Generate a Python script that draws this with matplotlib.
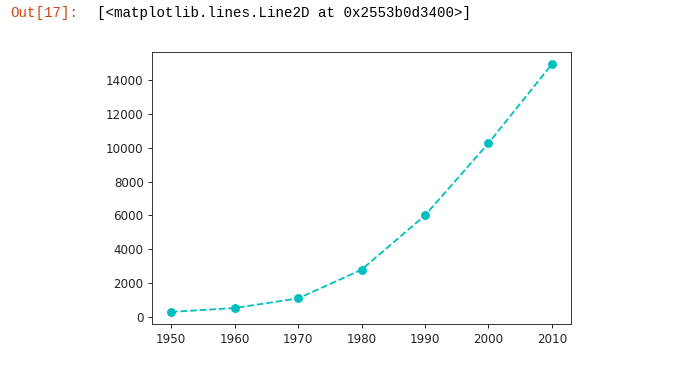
import matplotlib
matplotlib.use("Agg")
import matplotlib.pyplot as plt

years = [1950, 1960, 1970, 1980, 1990, 2000, 2010]
values = [280, 510, 1080, 2780, 6000, 10280, 14970]
yticks = [0, 2000, 4000, 6000, 8000, 10000, 12000, 14000]

fig = plt.figure(figsize=(6.92, 3.67), dpi=100)
ax = fig.add_axes([152/692, 1 - 324.3/367, (571 - 152)/692, (324.3 - 51.7)/367])

ax.plot(years, values, color='c', linestyle='--', marker='o',
        linewidth=1.3, markersize=5.4)
ax.set_xticks(years)
ax.set_yticks(yticks)
ax.tick_params(labelsize=8.6, length=3.0, width=0.7, pad=3.0, colors='#222222')
for s in ax.spines.values():
    s.set_linewidth(0.7)
    s.set_color('#333333')

fig.text(10/692, 1 - 13/367, "Out[17]:", color="#D84315", fontsize=10.2,
         family="Liberation Mono", va="center", ha="left")
fig.text(97/692, 1 - 13/367, "[<matplotlib.lines.Line2D at 0x2553b0d3400>]",
         color="black", fontsize=10.2, family="Liberation Mono", va="center", ha="left")

fig.savefig("out.png", dpi=100)
